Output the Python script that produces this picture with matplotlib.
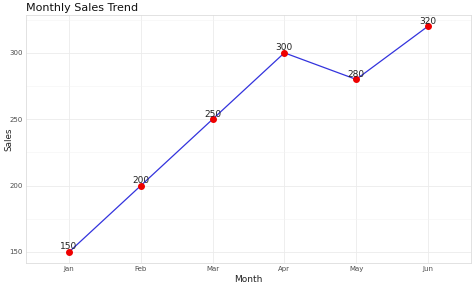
import matplotlib
matplotlib.use('Agg')
import matplotlib.pyplot as plt
from matplotlib.ticker import MultipleLocator

months = ['Jan', 'Feb', 'Mar', 'Apr', 'May', 'Jun']
sales = [150, 200, 250, 300, 280, 320]

fig = plt.figure(figsize=(4.74, 2.84), dpi=100)
ax = fig.add_axes([26/474, 1 - 263/284, 445/474, 248/284])

x = list(range(1, len(months) + 1))
ax.plot(x, sales, color='#3333dd', lw=0.9, zorder=3)
ax.scatter(x, sales, color='#ee0000', s=16, zorder=4)
for xi, v in zip(x, sales):
    ax.text(xi, v + 0.5, str(v), ha='center', va='bottom', fontsize=6.5,
            color='#222222', zorder=5)

ax.set_xlim(0.4, 6.6)
ax.set_ylim(141.7, 328.5)
ax.set_xticks(x)
ax.set_xticklabels(months)
ax.yaxis.set_major_locator(MultipleLocator(50))
ax.yaxis.set_minor_locator(MultipleLocator(25))

ax.grid(True, which='major', color='#ebebeb', lw=0.6)
ax.grid(True, which='minor', axis='y', color='#f3f3f3', lw=0.4)
ax.set_axisbelow(True)
for s in ax.spines.values():
    s.set_color('#dddddd')
    s.set_linewidth(0.6)
ax.tick_params(which='both', length=0, labelsize=5, colors='#4d4d4d', pad=2.5)

ax.set_xlabel('Month', fontsize=6.5, color='#222222', labelpad=2)
ax.set_ylabel('Sales', fontsize=6.3, color='#222222')
ax.yaxis.set_label_coords(-0.028, 0.5)
ax.set_title('Monthly Sales Trend', fontsize=8, loc='left', pad=3, color='#111111')

fig.savefig('out.png', dpi=100)
